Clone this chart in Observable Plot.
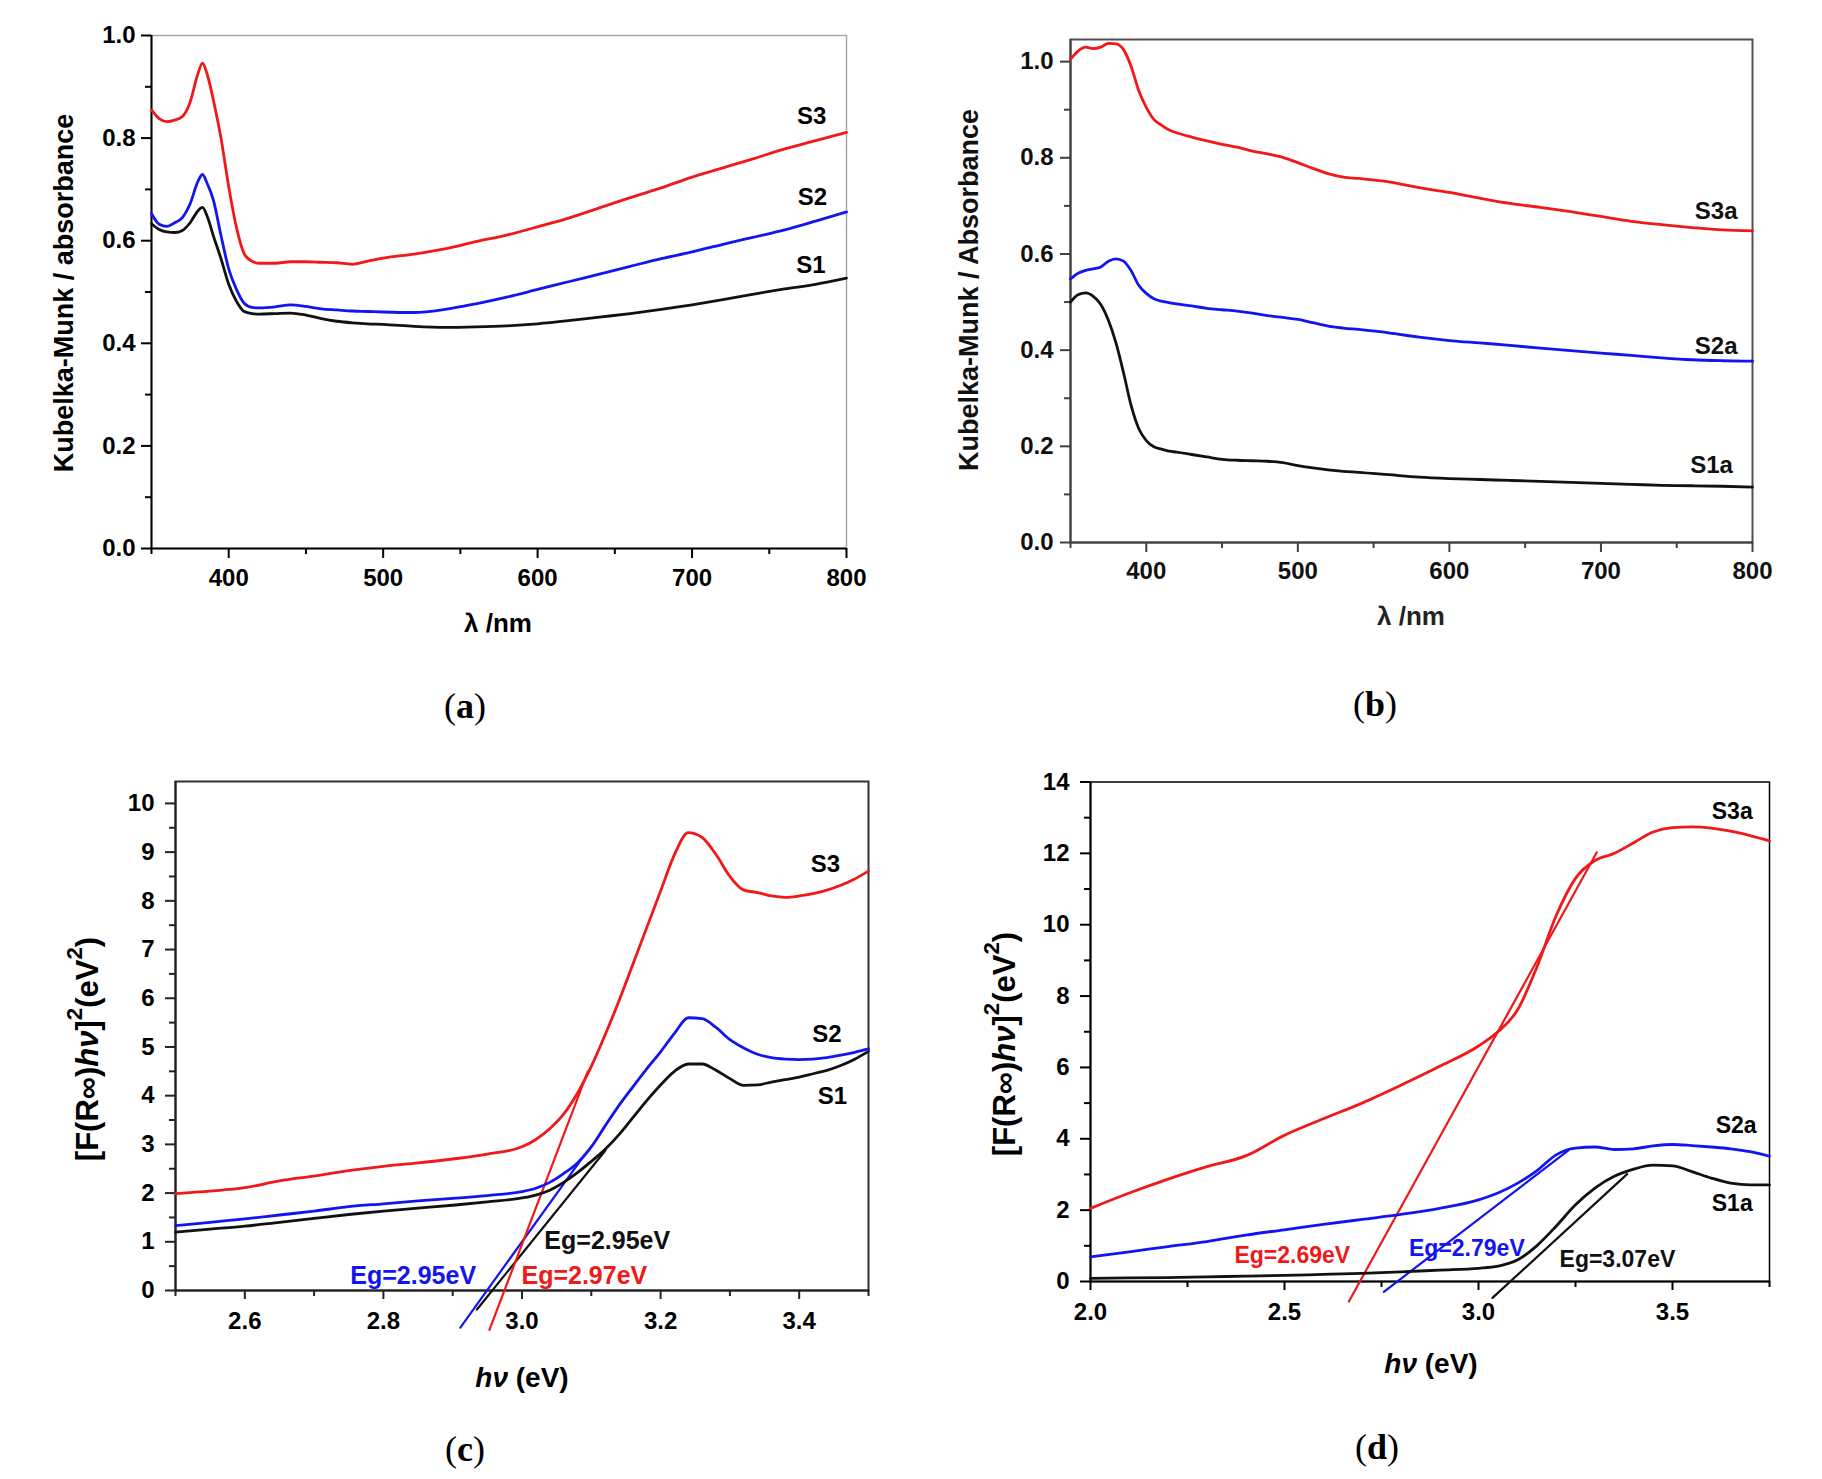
<!DOCTYPE html>
<html><head><meta charset="utf-8">
<script src="https://cdn.jsdelivr.net/npm/d3@7"></script>
<script src="https://cdn.jsdelivr.net/npm/@observablehq/plot@0.6"></script>
<style>
html,body{margin:0;padding:0;background:#fff;}
#fig{position:relative;width:1822px;height:1479px;overflow:hidden;}
.panel{position:absolute;}
.letter{position:absolute;font-family:"Liberation Serif","Times New Roman",serif;font-size:36px;transform:translate(-50%,-50%);color:#000;}
</style></head><body><div id="fig"></div>
<script>
// ---------- DATA ----------
// Panel (a)
const aWavelength = [350,355,360,365,370,375,380,383,386,390,395,400,405,410,415,420,430,440,450,460,470,480,490,500,520,540,560,580,600,620,640,660,680,700,720,740,760,780,800];
const aS1 = [0.633,0.622,0.617,0.616,0.620,0.635,0.658,0.665,0.648,0.610,0.565,0.515,0.482,0.462,0.458,0.457,0.458,0.459,0.455,0.448,0.443,0.440,0.438,0.437,0.433,0.431,0.432,0.434,0.438,0.444,0.451,0.458,0.466,0.475,0.485,0.496,0.506,0.515,0.527];
const aS2 = [0.653,0.632,0.628,0.635,0.645,0.672,0.715,0.729,0.712,0.680,0.610,0.545,0.505,0.478,0.470,0.469,0.471,0.475,0.472,0.467,0.465,0.463,0.462,0.461,0.460,0.466,0.477,0.490,0.505,0.520,0.535,0.550,0.565,0.578,0.593,0.607,0.621,0.638,0.656];
const aS3 = [0.855,0.838,0.832,0.835,0.842,0.870,0.925,0.946,0.925,0.875,0.800,0.705,0.626,0.575,0.560,0.556,0.556,0.559,0.559,0.558,0.557,0.554,0.560,0.566,0.574,0.584,0.598,0.611,0.627,0.644,0.664,0.684,0.703,0.724,0.742,0.760,0.779,0.795,0.811];
const aLabelText = ["S1","S2","S3"];
const aLabelX = [777,778,777.5];
const aLabelY = [0.552,0.685,0.842];
const aXTicks = [400,500,600,700,800];
const aXMinor = [350,450,550,650,750];
const aYTicks = [0,0.2,0.4,0.6,0.8,1.0];
const aYMinor = [0.1,0.3,0.5,0.7,0.9];

// Panel (b)
const bWavelength = [350,355,360,365,370,375,380,385,390,395,400,405,410,415,420,430,440,450,460,470,480,490,500,510,520,530,540,560,580,600,620,640,660,680,700,720,740,760,780,800];
const bS1a = [0.500,0.515,0.519,0.512,0.495,0.462,0.415,0.353,0.285,0.237,0.212,0.199,0.194,0.190,0.188,0.183,0.178,0.173,0.171,0.170,0.169,0.166,0.160,0.155,0.151,0.148,0.146,0.141,0.136,0.133,0.131,0.129,0.127,0.125,0.123,0.121,0.119,0.118,0.117,0.115];
const bS2a = [0.548,0.560,0.566,0.569,0.573,0.585,0.590,0.585,0.565,0.535,0.518,0.507,0.502,0.499,0.496,0.492,0.487,0.484,0.481,0.477,0.472,0.468,0.464,0.457,0.450,0.446,0.443,0.436,0.427,0.420,0.415,0.410,0.404,0.399,0.394,0.389,0.384,0.380,0.378,0.377];
const bS3a = [1.005,1.022,1.030,1.027,1.030,1.038,1.037,1.025,0.990,0.940,0.905,0.880,0.868,0.858,0.852,0.843,0.835,0.828,0.822,0.814,0.808,0.801,0.790,0.778,0.767,0.760,0.757,0.750,0.738,0.728,0.716,0.705,0.697,0.688,0.678,0.668,0.661,0.655,0.650,0.648];
const bLabelText = ["S1a","S2a","S3a"];
const bLabelX = [773,776,776];
const bLabelY = [0.161,0.407,0.688];
const bXTicks = [400,500,600,700,800];
const bXMinor = [350,450,550,650,750];
const bYTicks = [0,0.2,0.4,0.6,0.8,1.0];
const bYMinor = [0.1,0.3,0.5,0.7,0.9];

// Panel (c)
const cEnergy = [2.50,2.55,2.60,2.65,2.70,2.75,2.80,2.85,2.90,2.95,3.00,3.02,3.04,3.06,3.08,3.10,3.12,3.14,3.16,3.18,3.20,3.22,3.24,3.26,3.28,3.30,3.32,3.34,3.36,3.38,3.40,3.42,3.44,3.46,3.48,3.50];
const cS1 = [1.20,1.26,1.32,1.40,1.48,1.56,1.63,1.69,1.75,1.82,1.90,1.96,2.06,2.22,2.42,2.65,2.90,3.20,3.55,3.90,4.22,4.50,4.65,4.65,4.52,4.35,4.21,4.22,4.28,4.33,4.38,4.45,4.52,4.62,4.75,4.91];
const cS2 = [1.33,1.40,1.47,1.55,1.63,1.72,1.78,1.84,1.89,1.95,2.03,2.10,2.22,2.40,2.62,2.95,3.38,3.80,4.18,4.55,4.90,5.28,5.60,5.58,5.40,5.15,4.98,4.85,4.78,4.75,4.74,4.75,4.78,4.83,4.89,4.96];
const cS3 = [1.99,2.04,2.11,2.25,2.35,2.46,2.55,2.62,2.70,2.80,2.95,3.10,3.32,3.62,4.05,4.60,5.25,5.95,6.70,7.45,8.20,8.95,9.40,9.30,8.95,8.50,8.22,8.17,8.10,8.07,8.10,8.15,8.22,8.32,8.45,8.61];
const cFitS1X = [2.935,3.12], cFitS1Y = [-0.39,2.87];
const cFitS2X = [2.911,3.09], cFitS2Y = [-0.76,2.78];
const cFitS3X = [2.953,3.095], cFitS3Y = [-0.81,4.50];
const cLabelText = ["S1","S2","S3"];
const cLabelX = [3.448,3.44,3.438];
const cLabelY = [3.99,5.25,8.75];
const cEgText = ["Eg=2.95eV","Eg=2.95eV","Eg=2.97eV"];
const cEgX = [3.123,2.843,3.09];
const cEgY = [1.02,0.29,0.29];
const cXTicks = [2.6,2.8,3.0,3.2,3.4];
const cXMinor = [2.5,2.7,2.9,3.1,3.3,3.5];
const cYTicks = [0,1,2,3,4,5,6,7,8,9,10];
const cYMinor = [0.5,1.5,2.5,3.5,4.5,5.5,6.5,7.5,8.5,9.5];

// Panel (d)
const dEnergy = [2.0,2.1,2.2,2.3,2.4,2.5,2.6,2.7,2.8,2.9,3.0,3.05,3.1,3.15,3.2,3.25,3.3,3.35,3.4,3.45,3.5,3.55,3.6,3.65,3.7,3.75];
const dS1a = [0.09,0.10,0.11,0.13,0.15,0.17,0.20,0.23,0.27,0.32,0.37,0.43,0.60,1.00,1.55,2.15,2.62,2.95,3.15,3.26,3.24,3.08,2.90,2.76,2.71,2.71];
const dS2a = [0.69,0.83,0.98,1.12,1.30,1.45,1.60,1.74,1.88,2.05,2.29,2.48,2.75,3.10,3.55,3.74,3.77,3.70,3.72,3.80,3.84,3.81,3.77,3.72,3.64,3.51];
const dS3a = [2.05,2.48,2.87,3.22,3.52,4.10,4.56,5.00,5.50,6.03,6.60,7.00,7.60,8.80,10.25,11.30,11.80,12.00,12.30,12.60,12.72,12.74,12.71,12.62,12.50,12.35];
const dFitS1aX = [3.036,3.383], dFitS1aY = [-0.46,3.01];
const dFitS2aX = [2.756,3.231], dFitS2aY = [-0.29,3.67];
const dFitS3aX = [2.666,3.305], dFitS3aY = [-0.56,12.03];
const dLabelText = ["S1a","S2a","S3a"];
const dLabelX = [3.654,3.664,3.654];
const dLabelY = [2.19,4.37,13.18];
const dEgText = ["Eg=3.07eV","Eg=2.79eV","Eg=2.69eV"];
const dEgX = [3.358,2.97,2.52];
const dEgY = [0.60,0.93,0.73];
const dXTicks = [2.0,2.5,3.0,3.5];
const dXMinor = [2.25,2.75,3.25,3.75];
const dYTicks = [0,2,4,6,8,10,12,14];
const dYMinor = [1,3,5,7,9,11,13];

const seriesColors = ["#111111","#1414f0","#f01818"];

// ---------- DRAWING ----------
const FONT = '"Liberation Sans", Arial, Helvetica, sans-serif';
const fig = document.getElementById("fig");
const rows = (xs, ys) => xs.map((x, i) => ({x, y: ys[i]}));
const pts = (xs, ys, ts) => xs.map((x, i) => ({x, y: ys[i], t: ts[i], c: seriesColors[i]}));

function panel(cfg) {
  const marks = [
    Plot.frame({stroke: cfg.frameColor, strokeWidth: cfg.frameWidth}),
    Plot.ruleX([cfg.xDomain[0]], {stroke: cfg.axisColor, strokeWidth: 2}),
    Plot.ruleY([cfg.yDomain[0]], {stroke: cfg.axisColor, strokeWidth: 2}),
    Plot.axisX({ticks: cfg.xTicks, tickSize: cfg.xTickSize, tickPadding: cfg.xPad, tickFormat: cfg.xFmt, label: null, fontSize: cfg.tickFont, fontWeight: "bold", stroke: cfg.axisColor, strokeWidth: 2}),
    Plot.axisX({ticks: cfg.xMinor, tickSize: 6, tickFormat: () => "", label: null, stroke: cfg.axisColor, strokeWidth: 2}),
    Plot.axisY({ticks: cfg.yTicks, tickSize: cfg.yTickSize, tickPadding: cfg.yPad, tickFormat: cfg.yFmt, label: null, fontSize: cfg.tickFont, fontWeight: "bold", stroke: cfg.axisColor, strokeWidth: 2}),
    Plot.axisY({ticks: cfg.yMinor, tickSize: 6, tickFormat: () => "", label: null, stroke: cfg.axisColor, strokeWidth: 2})
  ];
  (cfg.fits || []).forEach((f, i) => marks.push(Plot.line(rows(f[0], f[1]), {x: "x", y: "y", stroke: seriesColors[i], strokeWidth: 2.2})));
  cfg.series.forEach((s, i) => marks.push(Plot.line(rows(cfg.xs, s), {x: "x", y: "y", stroke: seriesColors[i], strokeWidth: 2.8, curve: "monotone-x"})));
  marks.push(Plot.text(pts(cfg.labelX, cfg.labelY, cfg.labelText), {x: "x", y: "y", text: "t", fontSize: cfg.labelFont, fontWeight: "bold", fill: cfg.textColor}));
  if (cfg.eg) marks.push(Plot.text(pts(cfg.eg[0], cfg.eg[1], cfg.eg[2]), {x: "x", y: "y", text: "t", fill: "c", fontSize: cfg.egFont, fontWeight: "bold"}));
  const svg = Plot.plot({
    width: cfg.w, height: cfg.h,
    marginLeft: cfg.ml, marginRight: cfg.mr, marginTop: cfg.mt, marginBottom: cfg.mb,
    x: {domain: cfg.xDomain}, y: {domain: cfg.yDomain},
    style: {fontFamily: FONT, fontWeight: "bold", color: cfg.textColor, background: "transparent", overflow: "visible", maxWidth: "none"},
    marks
  });
  const div = document.createElement("div");
  div.className = "panel";
  div.style.left = cfg.left + "px";
  div.style.top = cfg.top + "px";
  div.appendChild(svg);
  fig.appendChild(div);
  return svg;
}

function richText(svg, {x, y, rotate = 0, size, parts, color = "#000"}) {
  const t = d3.select(svg).append("text")
    .attr("transform", `translate(${x},${y}) rotate(${rotate})`)
    .attr("text-anchor", "middle").attr("dominant-baseline", "central")
    .attr("font-family", FONT).attr("font-weight", "bold")
    .attr("font-size", size).attr("fill", color);
  let shift = 0;
  for (const p of parts) {
    const s = t.append("tspan").text(p.t);
    let target = 0;
    if (p.sup) { target = -0.42 * size; s.attr("font-size", size * 0.72); }
    if (p.i) s.attr("font-style", "italic");
    const dy = target - shift;
    if (dy) s.attr("dy", dy);
    shift = target;
  }
}

function letter(txt, x, y) {
  const d = document.createElement("div");
  d.className = "letter";
  d.style.left = x + "px"; d.style.top = y + "px";
  d.innerHTML = `(<b>${txt}</b>)`;
  fig.appendChild(d);
}

const f1 = d3.format(".1f"), fi = d3.format("d");
const hvParts = [{t: "[F(R\u221E)"}, {t: "h\u03BD", i: true}, {t: "]"}, {t: "2", sup: true}, {t: "(eV"}, {t: "2", sup: true}, {t: ")"}];

// (a)
const svgA = panel({left: 0, top: 0, w: 911, h: 740, ml: 151, mr: 65, mt: 35, mb: 192,
  xDomain: [350, 800], yDomain: [0, 1], frameColor: "#a8a8a8", frameWidth: 1.5, axisColor: "#000", textColor: "#000",
  xTicks: aXTicks, xMinor: aXMinor, xFmt: fi, yTicks: aYTicks, yMinor: aYMinor, yFmt: f1,
  xTickSize: 10, xPad: 10, yTickSize: 10, yPad: 6, tickFont: 24,
  xs: aWavelength, series: [aS1, aS2, aS3], labelX: aLabelX, labelY: aLabelY, labelText: aLabelText, labelFont: 24});
richText(svgA, {x: 64, y: 293, rotate: -90, size: 27, parts: [{t: "Kubelka-Munk / absorbance"}]});
richText(svgA, {x: 498, y: 623, size: 26, parts: [{t: "\u03BB /nm"}]});

// (b)
const svgB = panel({left: 911, top: 0, w: 911, h: 740, ml: 159, mr: 70, mt: 39, mb: 198,
  xDomain: [350, 800], yDomain: [0, 1.046], frameColor: "#505050", frameWidth: 2, axisColor: "#404040", textColor: "#111",
  xTicks: bXTicks, xMinor: bXMinor, xFmt: fi, yTicks: bYTicks, yMinor: bYMinor, yFmt: f1,
  xTickSize: 10, xPad: 9, yTickSize: 10, yPad: 7, tickFont: 24,
  xs: bWavelength, series: [bS1a, bS2a, bS3a], labelX: bLabelX, labelY: bLabelY, labelText: bLabelText, labelFont: 24});
richText(svgB, {x: 58, y: 290, rotate: -90, size: 27, color: "#111", parts: [{t: "Kubelka-Munk / Absorbance"}]});
richText(svgB, {x: 500, y: 616, size: 26, color: "#222", parts: [{t: "\u03BB /nm"}]});

// (c)
const svgC = panel({left: 0, top: 740, w: 911, h: 739, ml: 175, mr: 43, mt: 41, mb: 189,
  xDomain: [2.5, 3.5], yDomain: [0, 10.45], frameColor: "#333", frameWidth: 2, axisColor: "#222", textColor: "#000",
  xTicks: cXTicks, xMinor: cXMinor, xFmt: f1, yTicks: cYTicks, yMinor: cYMinor, yFmt: fi,
  xTickSize: 9, xPad: 12, yTickSize: 10, yPad: 11, tickFont: 24,
  xs: cEnergy, series: [cS1, cS2, cS3], fits: [[cFitS1X, cFitS1Y], [cFitS2X, cFitS2Y], [cFitS3X, cFitS3Y]],
  labelX: cLabelX, labelY: cLabelY, labelText: cLabelText, labelFont: 24,
  eg: [cEgX, cEgY, cEgText], egFont: 25});
richText(svgC, {x: 87, y: 309, rotate: -90, size: 31, parts: hvParts});
richText(svgC, {x: 522, y: 637, size: 28, parts: [{t: "h\u03BD", i: true}, {t: " (eV)"}]});

// (d)
const svgD = panel({left: 911, top: 740, w: 911, h: 739, ml: 179, mr: 53, mt: 41.5, mb: 198,
  xDomain: [2.0, 3.75], yDomain: [0, 14], frameColor: "#000", frameWidth: 1.5, axisColor: "#000", textColor: "#000",
  xTicks: dXTicks, xMinor: dXMinor, xFmt: f1, yTicks: dYTicks, yMinor: dYMinor, yFmt: fi,
  xTickSize: 9, xPad: 12, yTickSize: 10, yPad: 11, tickFont: 24,
  xs: dEnergy, series: [dS1a, dS2a, dS3a], fits: [[dFitS1aX, dFitS1aY], [dFitS2aX, dFitS2aY], [dFitS3aX, dFitS3aY]],
  labelX: dLabelX, labelY: dLabelY, labelText: dLabelText, labelFont: 23,
  eg: [dEgX, dEgY, dEgText], egFont: 23});
richText(svgD, {x: 93, y: 304, rotate: -90, size: 31, parts: hvParts});
richText(svgD, {x: 520, y: 623, size: 28, parts: [{t: "h\u03BD", i: true}, {t: " (eV)"}]});

letter("a", 465, 706);
letter("b", 1375, 704);
letter("c", 465, 1449);
letter("d", 1377, 1447);
</script></body></html>
